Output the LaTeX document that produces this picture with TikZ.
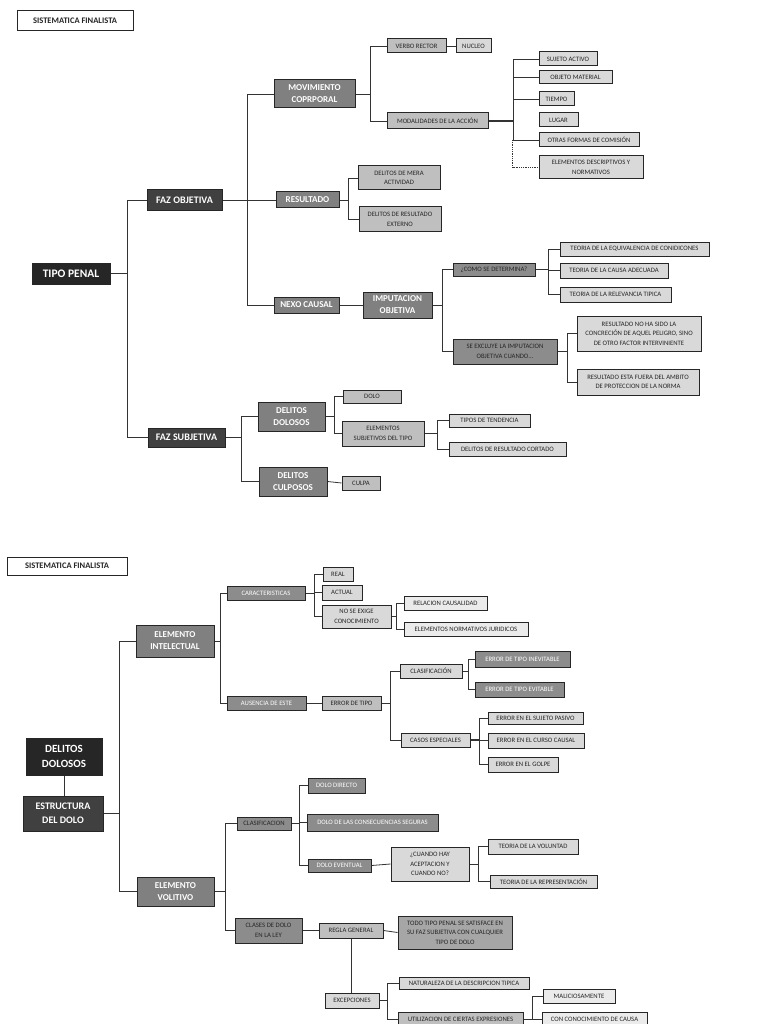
\documentclass[tikz,border=0pt]{standalone}
\usepackage{fontspec}
\setmainfont{Carlito}
\begin{document}
\begin{tikzpicture}[x=1pt,y=-1pt]
\tikzset{
 bx/.style={draw=black!85, line width=1pt, inner sep=0pt, align=center, text=black!85, font=\fontsize{6.7}{9.5}\selectfont},
 ttl/.style={bx, fill=white, font=\bfseries\fontsize{8.5}{9}\selectfont},
 k0/.style={bx, fill=black!85, text=white, font=\bfseries\fontsize{11.5}{15}\selectfont},
 k1/.style={bx, fill=black!75, text=white, font=\bfseries\fontsize{10}{14}\selectfont},
 k2/.style={bx, fill=black!50, text=white, font=\bfseries\fontsize{9}{12}\selectfont},
 gm/.style={bx, fill=black!45},
 gw/.style={bx, fill=black!45, text=white},
 g3/.style={bx, fill=black!25},
 g35/.style={bx, fill=black!35},
 g4/.style={bx, fill=black!15},
 g5/.style={bx, fill=black!8},
 ln/.style={draw=black!80, line width=0.8pt},
 thk/.style={draw=black!80, line width=1.8pt}
}
\useasboundingbox (0,0) rectangle (768,1024);
\clip (0,0) rectangle (768,1024);
\fill[white] (0,0) rectangle (768,1024);

% ================= TOP =================
\node[ttl, minimum width=116, minimum height=20] (t1) at (75,21) {SISTEMATICA FINALISTA};
\node[k0, minimum width=78, minimum height=21] (tipo) at (71,273.5) {TIPO PENAL};
\node[k1, minimum width=75, minimum height=21] (fo) at (184.5,200.5) {FAZ OBJETIVA};
\node[k1, minimum width=77, minimum height=19] (fs) at (186.5,437.5) {FAZ SUBJETIVA};
\node[k2, minimum width=81, minimum height=28] (mov) at (314.5,94) {MOVIMIENTO\\COPRPORAL};
\node[k2, minimum width=63, minimum height=16] (res) at (307.5,200) {RESULTADO};
\node[k2, minimum width=65, minimum height=16] (nexo) at (306.5,305) {NEXO CAUSAL};
\node[g3, minimum width=59, minimum height=14] (verbo) at (416.5,46) {VERBO RECTOR};
\node[g4, minimum width=35, minimum height=14] (nucleo) at (473.5,46) {NUCLEO};
\node[g3, minimum width=101, minimum height=16] (modal) at (437.5,121) {MODALIDADES DE LA ACCIÓN};
\node[g4, minimum width=58, minimum height=14] (sa) at (568,59) {SUJETO ACTIVO};
\node[g4, minimum width=73, minimum height=13] (om) at (575.5,77.5) {OBJETO MATERIAL};
\node[g4, minimum width=35, minimum height=14] (tiempo) at (556.5,99) {TIEMPO};
\node[g4, minimum width=39, minimum height=14] (lugar) at (558.5,120) {LUGAR};
\node[g4, minimum width=100, minimum height=14] (otras) at (589,140) {OTRAS FORMAS DE COMISIÓN};
\node[g4, minimum width=104, minimum height=23] (edn) at (591,167.5) {ELEMENTOS DESCRIPTIVOS Y\\NORMATIVOS};
\node[g3, minimum width=82, minimum height=24] (dma) at (399,178) {DELITOS DE MERA\\ACTIVIDAD};
\node[g3, minimum width=82, minimum height=25] (dre) at (400,219.5) {DELITOS DE RESULTADO\\EXTERNO};
\node[k2, minimum width=69, minimum height=26] (imp) at (397.5,305) {IMPUTACION\\OBJETIVA};
\node[gm, minimum width=82, minimum height=13] (como) at (494,269.5) {¿COMO SE DETERMINA?};
\node[gm, minimum width=104, minimum height=25] (excl) at (505,351.5) {SE EXCLUYE LA IMPUTACION\\OBJETIVA CUANDO...};
\node[g4, minimum width=149, minimum height=14] (teq) at (634.5,249) {TEORIA DE LA EQUIVALENCIA DE CONIDICONES};
\node[g4, minimum width=108, minimum height=15] (tca) at (614,270.5) {TEORIA DE LA CAUSA ADECUADA};
\node[g4, minimum width=111, minimum height=15] (trt) at (615.5,294.5) {TEORIA DE LA RELEVANCIA TIPICA};
\node[g4, minimum width=124, minimum height=35] (rnh) at (639,333.5) {RESULTADO NO HA SIDO LA\\CONCRECIÓN DE AQUEL PELIGRO, SINO\\DE OTRO FACTOR INTERVINIENTE};
\node[g4, minimum width=122, minimum height=26] (rfa) at (638,382) {RESULTADO ESTA FUERA DEL AMBITO\\DE PROTECCION DE LA NORMA};
\node[k2, minimum width=67, minimum height=29] (dd) at (291.5,416.5) {DELITOS\\DOLOSOS};
\node[k2, minimum width=68, minimum height=29] (dc) at (293,481.5) {DELITOS\\CULPOSOS};
\node[g3, minimum width=58, minimum height=13] (dolo) at (372,396.5) {DOLO};
\node[g3, minimum width=82, minimum height=25] (est) at (383,433.5) {ELEMENTOS\\SUBJETIVOS DEL TIPO};
\node[g4, minimum width=81, minimum height=13] (tt) at (489.5,420.5) {TIPOS DE TENDENCIA};
\node[g4, minimum width=117, minimum height=14] (drc) at (507.5,449) {DELITOS DE RESULTADO CORTADO};
\node[g3, minimum width=38, minimum height=14] (culpa) at (361,483) {CULPA};

% connectors top
\draw[ln] (tipo.east) -- ++(17,0) |- (fo.west);
\draw[ln] (tipo.east) -- ++(17,0) |- (fs.west);
\draw[ln] (fo.east) -- ++(25,0) |- (mov.west);
\draw[ln] (fo.east) -- ++(25,0) |- (res.west);
\draw[ln] (fo.east) -- ++(25,0) |- (nexo.west);
\draw[ln] (mov.east) -- ++(15,0) |- (verbo.west);
\draw[ln] (mov.east) -- ++(15,0) |- (modal.west);
\draw[ln] (verbo.east) -- (nucleo.west);
\draw[thk] (modal.east) -- ++(25,0);
\draw[ln] (modal.east) ++(25,0) |- (sa.west);
\draw[ln] (modal.east) ++(25,0) |- (om.west);
\draw[ln] (modal.east) ++(25,0) |- (tiempo.west);
\draw[ln] (modal.east) ++(25,0) |- (otras.west);
\draw[ln, densely dotted] (otras.west) ++(-26,0) |- (edn.west);
\draw[ln] (res.east) -- ++(9,0) |- (dma.west);
\draw[ln] (res.east) -- ++(9,0) |- (dre.west);
\draw[ln] (nexo.east) -- (imp.west);
\draw[ln] (imp.east) -- ++(10,0) |- (como.west);
\draw[ln] (imp.east) -- ++(10,0) |- (excl.west);
\draw[thk] (como.east) -- ++(13,0);
\draw[ln] (como.east) -- ++(13,0) |- (teq.west);
\draw[ln] (como.east) -- ++(13,0) |- (tca.west);
\draw[ln] (como.east) -- ++(13,0) |- (trt.west);
\draw[ln] (excl.east) -- ++(10,0) |- (rnh.west);
\draw[ln] (excl.east) -- ++(10,0) |- (rfa.west);
\draw[ln] (fs.east) -- ++(16,0) |- (dd.west);
\draw[ln] (fs.east) -- ++(16,0) |- (dc.west);
\draw[ln] (dd.east) -- ++(9,0) |- (dolo.west);
\draw[ln] (dd.east) -- ++(9,0) |- (est.west);
\draw[ln] (est.east) -- ++(13,0) |- (tt.west);
\draw[ln] (est.east) -- ++(13,0) |- (drc.west);
\draw[ln] (dc.east) -- (culpa.west);

% ================= BOTTOM =================
\node[ttl, minimum width=120, minimum height=18] (t2) at (67,566) {SISTEMATICA FINALISTA};
\node[k0, minimum width=76, minimum height=37, font=\bfseries\fontsize{11}{15}\selectfont] (ddol) at (64,756.5) {DELITOS\\DOLOSOS};
\node[k1, minimum width=80, minimum height=35, font=\bfseries\fontsize{10}{14}\selectfont] (estr) at (63,813.5) {ESTRUCTURA\\DEL DOLO};
\node[k2, minimum width=78, minimum height=32] (ei) at (175,641) {ELEMENTO\\INTELECTUAL};
\node[k2, minimum width=77, minimum height=29] (ev) at (175.5,891.5) {ELEMENTO\\VOLITIVO};
\node[gw, minimum width=78, minimum height=14] (car) at (266,593) {CARACTERISTICAS};
\node[gw, minimum width=79, minimum height=14] (aus) at (266.5,703) {AUSENCIA DE ESTE};
\node[g4, minimum width=30, minimum height=14] (real) at (338,574) {REAL};
\node[g4, minimum width=40, minimum height=15] (actual) at (342,592.5) {ACTUAL};
\node[g4, minimum width=69, minimum height=23] (nse) at (356.5,616.5) {NO SE EXIGE\\CONOCIMIENTO};
\node[g5, minimum width=83, minimum height=14] (rc) at (445.5,603) {RELACION CAUSALIDAD};
\node[g5, minimum width=124, minimum height=14] (enj) at (466,629) {ELEMENTOS NORMATIVOS JURIDICOS};
\node[g3, minimum width=59, minimum height=14] (et) at (351.5,703) {ERROR DE TIPO};
\node[g4, minimum width=62, minimum height=14] (cla1) at (431,671) {CLASIFICACIÓN};
\node[gw, minimum width=95, minimum height=16] (eti) at (522.5,659) {ERROR DE TIPO INEVITABLE};
\node[gw, minimum width=89, minimum height=15] (ete) at (519.5,689.5) {ERROR DE TIPO EVITABLE};
\node[g4, minimum width=69, minimum height=14] (ces) at (435.5,740) {CASOS ESPECIALES};
\node[g4, minimum width=95, minimum height=12] (esp) at (535.5,718) {ERROR EN EL SUJETO PASIVO};
\node[g4, minimum width=96, minimum height=15] (ecc) at (536,740.5) {ERROR EN EL CURSO CAUSAL};
\node[g4, minimum width=70, minimum height=15] (eg) at (523,764.5) {ERROR EN EL GOLPE};
\node[gm, minimum width=54, minimum height=13] (cla2) at (264,823.5) {CLASIFICACION};
\node[gw, minimum width=57, minimum height=15] (ddir) at (336.5,785.5) {DOLO DIRECTO};
\node[gw, minimum width=131, minimum height=17] (dcs) at (372.5,822.5) {DOLO DE LAS CONSECUENCIAS SEGURAS};
\node[gw, minimum width=63, minimum height=13] (dev) at (339.5,865.5) {DOLO EVENTUAL};
\node[g4, minimum width=78, minimum height=34] (cuando) at (430,864) {¿CUANDO HAY\\ACEPTACION Y\\CUANDO NO?};
\node[g4, minimum width=90, minimum height=15] (tv) at (533,846.5) {TEORIA DE LA VOLUNTAD};
\node[g4, minimum width=107, minimum height=13] (trep) at (543.5,881.5) {TEORIA DE LA REPRESENTACIÓN};
\node[gm, minimum width=67, minimum height=25] (cdl) at (268.5,930.5) {CLASES DE DOLO\\EN LA LEY};
\node[g3, minimum width=64, minimum height=15] (rg) at (351,930.5) {REGLA GENERAL};
\node[g35, minimum width=114, minimum height=33] (todo) at (455,932.5) {TODO TIPO PENAL SE SATISFACE EN\\SU FAZ SUBJETIVA CON CUALQUIER\\TIPO DE DOLO};
\node[g4, minimum width=54, minimum height=15] (exc) at (352,1000.5) {EXCEPCIONES};
\node[g4, minimum width=130, minimum height=12] (nat) at (464,983) {NATURALEZA DE LA DESCRIPCION TIPICA};
\node[g3, minimum width=125, minimum height=13] (util) at (460.5,1019) {UTILIZACION DE CIERTAS EXPRESIONES};
\node[g5, minimum width=72, minimum height=14] (mal) at (579,996) {MALICIOSAMENTE};
\node[g5, minimum width=105, minimum height=13] (ccc) at (594.5,1019) {CON CONOCIMIENTO DE CAUSA};

% connectors bottom
\draw[ln] (ddol.south) -- (ddol.south |- estr.north);
\draw[ln] (estr.east) -- ++(16,0) |- (ei.west);
\draw[ln] (estr.east) -- ++(16,0) |- (ev.west);
\draw[ln] (ei.east) -- ++(6,0) |- (car.west);
\draw[ln] (ei.east) -- ++(6,0) |- (aus.west);
\draw[ln] (car.east) -- ++(9,0) |- (real.west);
\draw[ln] (car.east) -- ++(9,0) |- (actual.west);
\draw[ln] (car.east) -- ++(9,0) |- (nse.west);
\draw[ln] (nse.east) -- ++(5,0) |- (rc.west);
\draw[ln] (nse.east) -- ++(5,0) |- (enj.west);
\draw[ln] (aus.east) -- (et.west);
\draw[ln] (et.east) -- ++(9,0) |- (cla1.west);
\draw[ln] (et.east) -- ++(9,0) |- (ces.west);
\draw[ln] (cla1.east) -- ++(6,0) |- (eti.west);
\draw[ln] (cla1.east) -- ++(6,0) |- (ete.west);
\draw[thk] (ces.east) -- ++(9,0);
\draw[ln] (ces.east) -- ++(9,0) |- (esp.west);
\draw[ln] (ces.east) -- ++(9,0) |- (ecc.west);
\draw[ln] (ces.east) -- ++(9,0) |- (eg.west);
\draw[thk] (ev.east) -- ++(11,0);
\draw[ln] (ev.east) -- ++(11,0) |- (cla2.west);
\draw[ln] (ev.east) -- ++(11,0) |- (cdl.west);
\draw[ln] (cla2.east) -- ++(8,0) |- (ddir.west);
\draw[ln] (cla2.east) -- ++(8,0) |- (dcs.west);
\draw[ln] (cla2.east) -- ++(8,0) |- (dev.west);
\draw[ln] (dev.east) -- (cuando.west);
\draw[ln] (cuando.east) -- ++(9,0) |- (tv.west);
\draw[ln] (cuando.east) -- ++(9,0) |- (trep.west);
\draw[ln] (cdl.east) -- (rg.west);
\draw[ln] (rg.east) -- (todo.west);
\draw[ln] (rg.south) -- (rg.south |- exc.north);
\draw[ln] (exc.east) -- ++(8,0) |- (nat.west);
\draw[ln] (exc.east) -- ++(8,0) |- (util.west);
\draw[ln] (util.east) -- ++(9,0) |- (mal.west);
\draw[ln] (util.east) -- ++(9,0) |- (ccc.west);
\end{tikzpicture}
\end{document}
